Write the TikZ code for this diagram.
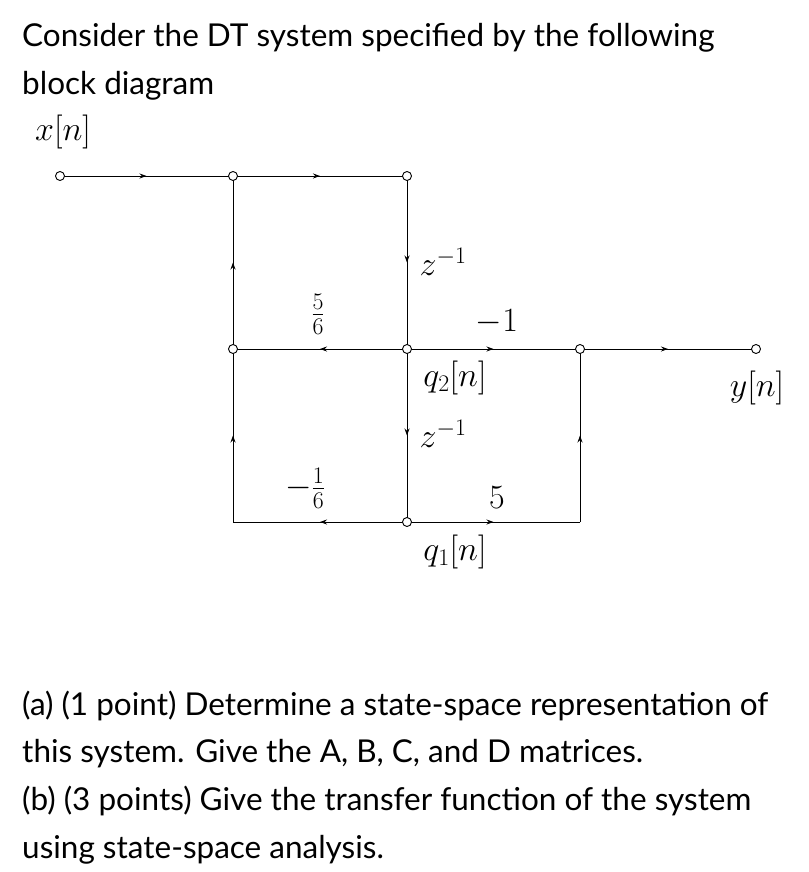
\RequirePackage{fix-cm}
\documentclass[tikz,border=0pt]{standalone}
\usepackage{fontspec}
\setmainfont{Lato}
\usetikzlibrary{decorations.markings,arrows.meta}
\begin{document}
\begin{tikzpicture}[x=1pt,y=-1pt,
  pt/.style={circle,draw,fill=white,inner sep=0pt,minimum size=9pt,line width=0.9pt},
  mid/.style={line width=0.9pt,postaction={decorate},decoration={markings,mark=at position 0.5 with {\arrow{Stealth[length=7pt,width=5pt]}}}},
  txt/.style={anchor=base west,inner sep=0pt,font=\fontsize{31.5}{34}\selectfont},
  lab/.style={inner sep=0pt,font=\fontsize{34}{36}\selectfont}]
\useasboundingbox (0,0) rectangle (808,872);
\node[txt] (t1) at (22,47) {Consider the DT system specified by the following};
\node[txt] (t2) at (22,95) {block diagram};
\node[txt] (t3) at (22,715) {(a) (1 point) Determine a state-space representation of};
\node[txt] (t4) at (22,762) {this system. Give the A, B, C, and D matrices.};
\node[txt] (t5) at (22,810) {(b) (3 points) Give the transfer function of the system};
\node[txt] (t6) at (22,858) {using state-space analysis.};
\coordinate (bl) at (233,522);
\coordinate (br) at (580,522);
\draw[mid] (60,176) -- (233,176);
\draw[mid] (233,176) -- (407,176);
\draw[mid] (233,349) -- (233,176);
\draw[mid] (233,522) -- (233,349);
\draw[mid] (407,176) -- (407,349);
\draw[mid] (407,349) -- (407,522);
\draw[mid] (407,349) -- (233,349);
\draw[mid] (407,349) -- (580,349);
\draw[mid] (580,349) -- (756,349);
\draw[mid] (407,522) -- (bl);
\draw[mid] (407,522) -- (br);
\draw[mid] (br) -- (580,349);
\node[pt] (in) at (60,176) {};
\node[pt] (n1) at (233,176) {};
\node[pt] (n2) at (407,176) {};
\node[pt] (n3) at (233,349) {};
\node[pt] (n4) at (407,349) {};
\node[pt] (n5) at (580,349) {};
\node[pt] (out) at (756,349) {};
\node[pt] (n6) at (407,522) {};
\node[lab] (lx) at (63,132) {$x[n]$};
\node[lab] (lz1) at (443,262) {$z^{-1}$};
\node[lab] (l56) at (318,314) {$\frac{5}{6}$};
\node[lab] (lm1) at (497,322) {$-1$};
\node[lab] (lq2) at (455,378) {$q_2[n]$};
\node[lab] (ly) at (757,388) {$y[n]$};
\node[lab] (lz2) at (443,434) {$z^{-1}$};
\node[lab] (l16) at (305,488) {$-\frac{1}{6}$};
\node[lab] (l5) at (497,498) {$5$};
\node[lab] (lq1) at (455,552) {$q_1[n]$};
\end{tikzpicture}
\end{document}
